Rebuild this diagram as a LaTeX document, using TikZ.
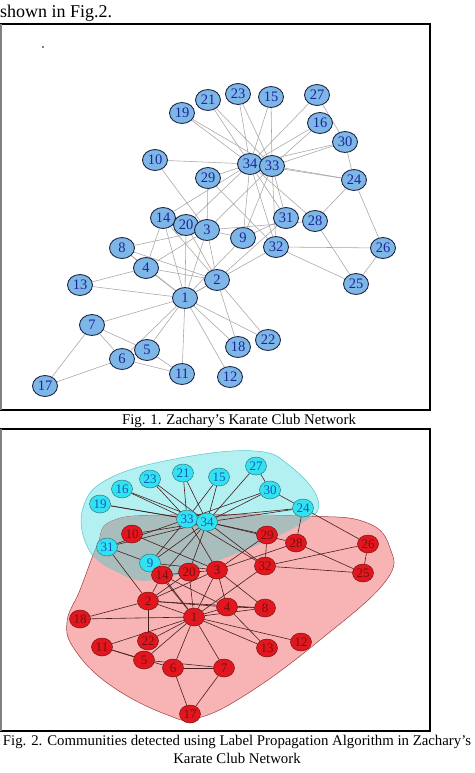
\documentclass[tikz,border=0pt]{standalone}
\usepackage{fontspec}
\setmainfont{Liberation Serif}
\usetikzlibrary{shapes.geometric}
\pgfdeclarelayer{bg}
\pgfdeclarelayer{hull}
\pgfdeclarelayer{edges}
\pgfsetlayers{bg,hull,edges,main}
\definecolor{bluefill}{RGB}{126,182,232}
\definecolor{bluetext}{RGB}{26,40,150}
\definecolor{blueline}{RGB}{30,40,70}
\definecolor{redfill}{RGB}{226,22,30}
\definecolor{redtext}{RGB}{120,16,16}
\definecolor{cyanfill}{RGB}{50,226,240}
\definecolor{cyantext}{RGB}{16,90,190}
\definecolor{cyanhull}{RGB}{178,240,242}
\definecolor{cyanhullline}{RGB}{80,200,210}
\definecolor{redhull}{RGB}{248,180,180}
\definecolor{redhullline}{RGB}{160,60,60}
\definecolor{overlap}{RGB}{169,189,189}
\definecolor{edgeone}{RGB}{165,165,165}
\definecolor{edgetwo}{RGB}{70,30,30}
\tikzset{
  fone/.style={ellipse, fill=bluefill, draw=blueline, line width=0.9pt, minimum width=25pt, minimum height=21pt, inner sep=0pt, text=bluetext, font=\fontsize{14.5}{14.5}\selectfont},
  ftwored/.style={ellipse, fill=redfill, draw=redtext, line width=0.5pt, minimum width=21pt, minimum height=18pt, inner sep=0pt, text=redtext, font=\fontsize{13}{13}\selectfont},
  ftwocyan/.style={ellipse, fill=cyanfill, draw=cyanhullline!60!black, line width=0.5pt, minimum width=21pt, minimum height=18pt, inner sep=0pt, text=cyantext, font=\fontsize{13}{13}\selectfont},
  eone/.style={draw=edgeone, line width=0.55pt},
  etwo/.style={draw=edgetwo, line width=0.6pt},
  frame/.style={draw=black, line width=1.4pt},
  captext/.style={font=\fontsize{14.8}{16}\selectfont, inner sep=0pt, align=center}
}
\begin{document}
\begin{tikzpicture}[x=1pt,y=-1pt]
\useasboundingbox (0,0) rectangle (474,773);
\begin{pgfonlayer}{bg}
\fill[white] (0,0) rectangle (474,773);
\end{pgfonlayer}
% top text
\node[anchor=base west, inner sep=0pt, font=\fontsize{18}{20}\selectfont] (toptext) at (0,18) {shown in Fig.2.};
% ---------------- Figure 1 ----------------
\draw[frame] (0,24) -- (430,24) -- (430,410) -- (0,410);
\draw[gray, line width=1.2pt] (1,24) -- (1,410);
\fill (43,47) circle (0.9pt);
\foreach \n/\x/\y in {19/182/113, 21/208/100, 23/238/94, 15/271/97, 27/317/95, 16/320/123, 30/345/142, 10/155/160, 34/250/164, 33/272/166, 29/208/178, 24/354/180, 14/163/218, 20/186/225, 3/207/230, 31/286/218, 28/315/221, 9/243/238, 32/276/247, 26/383/248, 8/122/248, 4/146/268, 2/217/280, 13/80/285, 25/356/284, 1/185/298, 7/92/325, 22/268/340, 18/238/347, 5/147/350, 6/122/359, 11/182/374, 12/230/377, 17/45/386}
  \node[fone] (a\n) at (\x,\y) {\n};
\node[captext, anchor=base] (capone) at (239,424) {Fig. 1. Zachary's Karate Club Network};
% ---------------- Figure 2 ----------------
\draw[frame] (0,429) -- (430,429) -- (430,731) -- (0,731);
\draw[gray, line width=1.2pt] (1,429) -- (1,731);
\def\cyanpath{plot[smooth cycle, tension=0.7] coordinates {(83,508) (110,478) (180,458) (255,451) (290,466) (318,500) (302,523) (230,556) (155,580) (115,571) (88,548)}}
\def\redpath{plot[smooth cycle, tension=0.7] coordinates {(112,521) (170,515) (300,516) (365,522) (390,548) (385,582) (320,640) (250,692) (198,718) (165,714) (110,685) (75,650) (67,622) (80,590) (97,546)}}
\begin{pgfonlayer}{hull}
  \filldraw[fill=cyanhull, draw=cyanhullline, line width=0.5pt] \cyanpath;
  \filldraw[fill=redhull, draw=redhullline, line width=0.5pt] \redpath;
  \begin{scope}
    \clip \redpath;
    \fill[overlap] \cyanpath;
  \end{scope}
\end{pgfonlayer}
\foreach \n/\x/\y in {27/256/466, 21/183/473, 15/219/477, 23/150/479, 16/122/489, 30/270/490, 19/100/504, 24/303/508, 33/187/519, 34/207/522, 31/107/547, 9/150/563}
  \node[ftwocyan] (b\n) at (\x,\y) {\n};
\foreach \n/\x/\y in {10/132/534, 29/267/535, 28/296/543, 26/368/544, 32/265/566, 3/217/570, 20/189/572, 25/363/573, 14/162/575, 2/148/601, 4/227/607, 8/265/608, 18/80/619, 1/194/617, 22/148/641, 12/301/642, 11/102/647, 13/267/648, 5/144/660, 6/173/668, 7/224/668, 17/190/714}
  \node[ftwored] (b\n) at (\x,\y) {\n};
\node[captext, anchor=base] (captwoa) at (237,745) {Fig. 2. Communities detected using Label Propagation Algorithm in Zachary's};
\node[captext, anchor=base] (captwob) at (237,763) {Karate Club Network};
% ---------------- Edges ----------------
\begin{pgfonlayer}{edges}
\foreach \a/\b in {1/2,1/3,1/4,1/5,1/6,1/7,1/8,1/9,1/11,1/12,1/13,1/14,1/18,1/20,1/22,1/32,
2/3,2/4,2/8,2/14,2/18,2/20,2/22,2/31,3/4,3/8,3/9,3/10,3/14,3/28,3/29,3/33,
4/8,4/13,4/14,5/7,5/11,6/7,6/11,6/17,7/17,9/31,9/33,9/34,
10/34,14/34,15/33,15/34,16/33,16/34,19/33,19/34,20/34,21/33,21/34,23/33,23/34,
24/26,24/28,24/30,24/33,24/34,25/26,25/28,25/32,26/32,27/30,27/34,28/34,29/32,29/34,
30/33,30/34,31/33,31/34,32/33,32/34,33/34}
{
  \draw[eone] (a\a) -- (a\b);
  \draw[etwo] (b\a) -- (b\b);
}
\end{pgfonlayer}
\end{tikzpicture}
\end{document}
